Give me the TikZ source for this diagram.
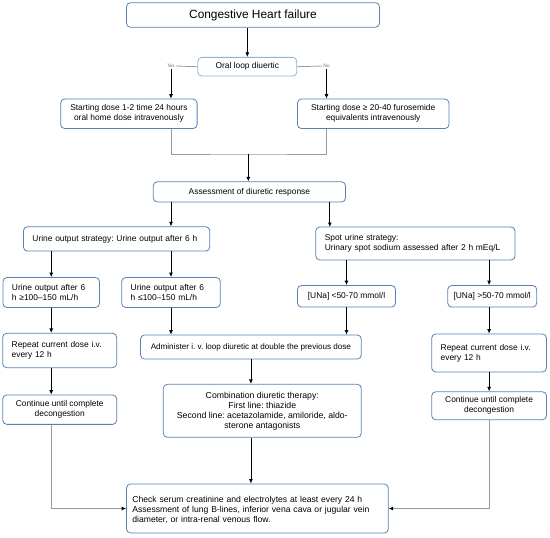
\documentclass[tikz,border=0pt]{standalone}
\usepackage{fontspec}
\setmainfont{Liberation Sans}
\newfontfamily\yesnofont{Liberation Serif}
\usetikzlibrary{arrows.meta}
\frenchspacing
\definecolor{boxblue}{HTML}{5B7FB4}
\definecolor{oralblue}{HTML}{8FB4D8}
\definecolor{linegray}{HTML}{9A9A9A}
\tikzset{
  box/.style={draw=boxblue, line width=0.8pt, rounded corners=4pt, align=center,
    inner xsep=2pt, inner ysep=0pt, font=\fontsize{8.4}{10}\selectfont},
  lbox/.style={box, align=left, inner xsep=9pt},
  arr/.style={-{Latex[length=4.5pt,width=4pt,color=black]}, line width=0.8pt},
  link/.style={draw=linegray, line width=0.8pt},
  yesno/.style={font=\fontsize{5}{6}\yesnofont, text=black!65, inner sep=1pt}
}
\begin{document}
\begin{tikzpicture}[x=1pt, y=-1pt]
\useasboundingbox (0,0) rectangle (550,538);
\node[box, minimum width=253, minimum height=24.6, font=\fontsize{11.9}{14}\selectfont] (chf) at (253,15) {Congestive Heart failure}; % top
\node[box, draw=oralblue, minimum width=99, minimum height=18.7] (oral) at (247.3,66.7) {Oral loop diuertic};
\node[yesno] (yes) at (171,66) {Yes};
\node[yesno] (no) at (326.5,66) {No};
\node[box, minimum width=136.4, minimum height=29.5] (startL) at (128.9,113.8) {Starting dose 1-2 time 24 hours\\oral home dose intravenously};
\node[box, minimum width=151.5, minimum height=29.5] (startR) at (373.2,113.8) {Starting dose ≥ 20-40 furosemide\\equivalents intravenously};
\node[box, minimum width=192.2, minimum height=20.2] (assess) at (249.4,191.9) {Assessment of diuretic response};
% two strategies
\node[lbox, minimum width=186.3, minimum height=24.3, text width=168.3] (urine) at (116.6,238.9) {Urine output strategy: Urine output after 6 h};
\node[lbox, minimum width=199.3, minimum height=33, text width=181.3] (spot) at (415.4,243.5) {Spot urine strategy:\\Urinary spot sodium assessed after 2 h mEq/L};
\node[lbox, minimum width=96.5, minimum height=30, text width=78.5] (uohigh) at (51.2,292.5) {Urine output after 6\\h ≥100–150 mL/h};
\node[lbox, minimum width=98.6, minimum height=30, text width=80.6] (uolow) at (171,292.5) {Urine output after 6\\h ≤100–150 mL/h};
\node[box, minimum width=98, minimum height=21.5] (nalow) at (346.5,296.3) {[UNa] <50-70 mmol/l};
\node[box, minimum width=89, minimum height=21.5] (nahigh) at (492.2,296.3) {[UNa] >50-70 mmol/l};
% treatment row
\node[lbox, minimum width=114, minimum height=34.4, text width=96] (repeatL) at (59.7,350.5) {Repeat current dose i.v.\\every 12 h};
\node[box, minimum width=220.8, minimum height=24, font=\fontsize{8.1}{10}\selectfont] (double) at (250.9,347) {Administer i. v. loop diuretic at double the previous dose};
\node[lbox, minimum width=114.8, minimum height=38, text width=96.8] (repeatR) at (489.1,353) {Repeat current dose i.v.\\every 12 h};
\node[box, minimum width=114, minimum height=29.3] (contL) at (59.7,409.7) {Continue until complete\\decongestion};
\node[box, minimum width=198, minimum height=53, font=\fontsize{8.7}{10}\selectfont] (combo) at (262.3,410.8) {Combination diuretic therapy:\\First line: thiazide\\Second line: acetazolamide, amiloride, aldo-\\sterone antagonists};
\node[box, minimum width=114.8, minimum height=28] (contR) at (489.1,405.8) {Continue until complete\\decongestion};
\node[lbox, minimum width=261.8, minimum height=49, text width=250, inner xsep=5.9pt, font=\fontsize{8.6}{10}\selectfont] (check) at (257.4,508.5) {\mbox{}\\Check serum creatinine and electrolytes at least every 24 h\\Assessment of lung B-lines, inferior vena cava or jugular vein\\diameter, or intra-renal venous flow.};
% connectors
\coordinate (join) at (248.3,154);
\coordinate (spotin) at (329.8,227);
\draw[arr] (chf.south -| oral.north) -- (oral.north);
\draw[link] (oral.west) -- (yes.east);
\draw[link] (oral.east) -- (no.west);
\draw[arr] (yes.south) -- (yes.south |- startL.north);
\draw[arr] (no.south) -- (no.south |- startR.north);
\draw[link] (yes |- startL.south) |- (join) -| (no |- startR.south); % merge
\draw[arr] (join) -- (join |- assess.north);
\draw[arr] (assess.south -| uolow) -- (urine.north -| uolow);
\draw[arr] (assess.south -| spotin) -- (spotin);
\draw[arr] (urine.south -| uohigh) -- (uohigh.north);
\draw[arr] (urine.south -| uolow) -- (uolow.north);
\draw[arr] (spot.south -| nalow) -- (nalow.north);
\draw[arr] (spot.south -| repeatR) -- (nahigh.north -| repeatR);
\draw[arr] (uohigh.south) -- (repeatL.north -| uohigh);
\draw[arr] (uolow.south) -- (double.north -| uolow);
\draw[arr] (nalow.south) -- (double.north -| nalow);
\draw[arr] (nahigh.south -| repeatR) -- (repeatR.north);
\draw[arr] (repeatL.south -| uohigh) -- (contL.north -| uohigh);
\draw[arr] (repeatR.south) -- (contR.north);
\draw[arr] (double.south) -- (combo.north -| double);
\draw[arr] (combo.south -| double) -- (check.north -| double);
\draw[link, arr] (contL.south -| uohigh) |- (check.west);
\draw[link, arr] (contR.south) |- (check.east);
\end{tikzpicture}
\end{document}
